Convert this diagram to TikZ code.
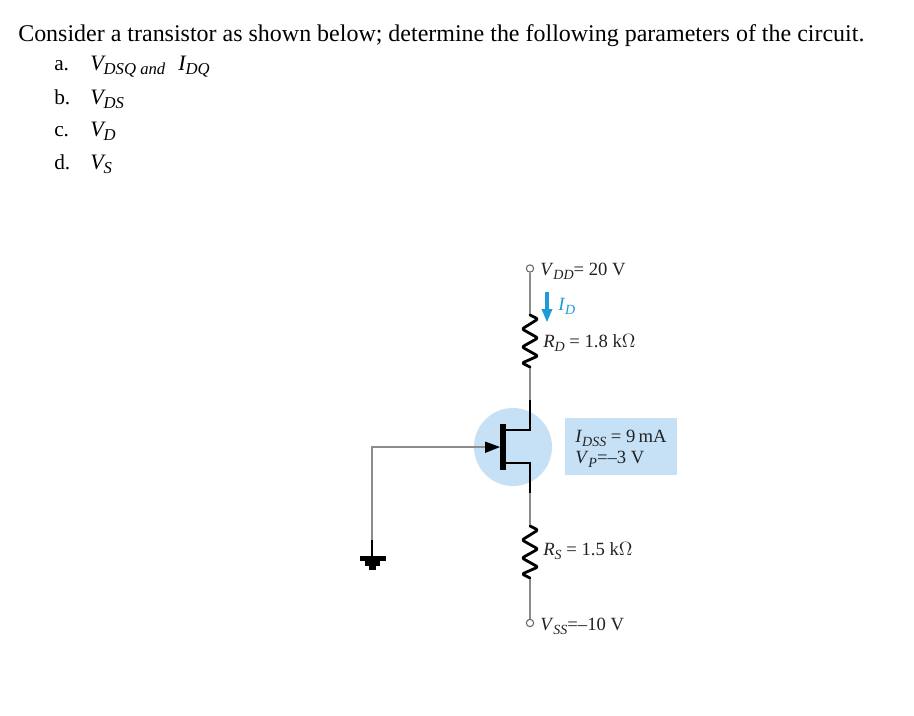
\documentclass[tikz,border=0pt]{standalone}
\usepackage{fontspec}
\setmainfont{Liberation Serif}
\definecolor{wiregray}{HTML}{8C8C8C}
\definecolor{softblue}{HTML}{C6E1F6}
\definecolor{curblue}{HTML}{1E9AD6}
\definecolor{inkdark}{HTML}{222222}
\newcommand{\qvar}[2]{{\fontsize{16.5}{18}\selectfont\itshape #1}\raisebox{-3.5pt}{\fontsize{12.5}{14}\selectfont\itshape #2}}
\newcommand{\cvar}[2]{\textit{#1}\raisebox{-3pt}{\fontsize{10.5}{12}\selectfont\itshape #2}}
\tikzset{
  x=0.75pt,y=-0.75pt,
  wire/.style={draw=wiregray,line width=1.1pt},
  blackwire/.style={draw=black,line width=1.1pt},
  heading/.style={anchor=base west,inner sep=0pt,font=\fontsize{17.98}{20}\selectfont},
  lbl/.style={anchor=base west,inner sep=0pt,font=\fontsize{16}{18}\selectfont},
  ckt/.style={anchor=base west,inner sep=0pt,text=inkdark,font=\fontsize{14}{16}\selectfont},
  terminal/.style={circle,draw=black!60,fill=white,line width=0.8pt,minimum size=5.5pt,inner sep=0pt},
  res/.style={draw=black,line width=2.1pt,line join=round,line cap=round,rounded corners=1.5pt},
  bar/.style={fill=black,draw=none},
}
\begin{document}
\begin{tikzpicture}
\useasboundingbox (0,0) rectangle (914,715);
\fill[white] (0,0) rectangle (914,715);

% text block
\node[heading] (title) at (18,41) {Consider a transistor as shown below; determine the following parameters of the circuit.};
\node[lbl] (la) at (54,70) {a.};
\node[lbl] (lb) at (54,104) {b.};
\node[lbl] (lc) at (54,136) {c.};
\node[lbl] (ld) at (54,169) {d.};
\node[lbl] (qa) at (90,70) {\qvar{V}{DSQ}};
\node[lbl,font=\fontsize{12.5}{14}\selectfont\itshape] (qand) at (140,74) {and};
\node[lbl] (qi) at (178,70) {\qvar{I}{DQ}};
\node[lbl] (qb) at (90,104) {\qvar{V}{DS}};
\node[lbl] (qc) at (90,136) {\qvar{V}{D}};
\node[lbl] (qd) at (90,169) {\qvar{V}{S}};

% background shapes
\fill[softblue] (513,447) circle[radius=39];
\fill[softblue] (565,418) rectangle (677,475);

% named points
\node[terminal] (vdd) at (530,268.5) {};
\node[terminal] (vss) at (530,623) {};
\coordinate (rdt) at (530,315);
\coordinate (rdb) at (530,367);
\coordinate (dtop) at (530,400);
\coordinate (dcor) at (530,430);
\coordinate (ddrain) at (505,430);
\coordinate (scor) at (530,463);
\coordinate (ssource) at (505,463);
\coordinate (sbot) at (530,493);
\coordinate (rst) at (530,526);
\coordinate (rsb) at (530,578);
\coordinate (gtip) at (486,447);
\coordinate (gcor) at (372,447);
\coordinate (gnd) at (372,540);
\coordinate (gndb) at (372,556);

% wires
\draw[wire] (vdd) -- (rdt);
\draw[wire] (rdb) -- (dtop);
\draw[wire] (sbot) -- (rst);
\draw[wire] (rsb) -- (vss);
\draw[wire] (gtip) -- (gcor) -- (gnd);
\draw[blackwire] (dtop) -- (dcor) -- (ddrain);
\draw[blackwire] (ssource) -- (scor) -- (sbot);
\draw[blackwire] (gnd) -- (gndb);

% resistors
\draw[res] (530,315) -- (538,319) -- (522,329) -- (538,338) -- (522,347) -- (538,356) -- (522,363) -- (530,367);
\draw[res] (530,526) -- (538,530) -- (522,540) -- (538,549) -- (522,558) -- (538,567) -- (522,574) -- (530,578);

% JFET
\fill[bar] (500,424) rectangle (506,470);
\fill[bar] (485,441.5) -- (500,447) -- (485,453) -- cycle;

% ground
\fill[bar] (359.5,556) rectangle (386,561);
\fill[bar] (365,561) rectangle (380,566);
\fill[bar] (368.5,566) rectangle (376,570);

% current arrow
\coordinate (ia) at (547,292);
\draw[curblue,line width=3pt] (ia) -- (547,312);
\fill[curblue] (541.5,309) -- (552.5,309) -- (547,322) -- cycle;

% circuit labels
\node[ckt] (tvdd) at (540,275) {\cvar{V}{DD}= 20 V};
\node[ckt,text=curblue] (tid) at (558,310) {\cvar{I}{D}};
\node[ckt] (trd) at (543,347) {\cvar{R}{D} = 1.8 k$\Omega$};
\node[ckt] (tidss) at (575,442) {\cvar{I}{DSS} = 9\,mA};
\node[ckt] (tvp) at (575,463) {\cvar{V}{P}=–3 V};
\node[ckt] (trs) at (543,555) {\cvar{R}{S} = 1.5 k$\Omega$};
\node[ckt] (tvss) at (540,630) {\cvar{V}{SS}=–10 V};
\end{tikzpicture}
\end{document}
